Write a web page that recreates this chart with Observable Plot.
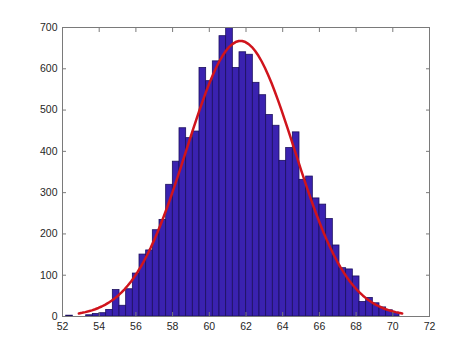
<!DOCTYPE html>
<html><head><meta charset="utf-8">
<script src="https://cdn.jsdelivr.net/npm/d3@7"></script>
<script src="https://cdn.jsdelivr.net/npm/@observablehq/plot@0.6"></script>
<style>html,body{margin:0;padding:0;background:#fff} svg{display:block}</style>
</head><body><div id="chart"></div>
<script>
// Histogram counts (50 bins)
const counts = [2,0,0,3,6,8,16,64,26,66,104,150,160,209,234,319,375,456,432,448,
  602,570,618,679,699,602,640,634,566,536,488,462,377,408,446,331,339,286,271,236,
  172,117,114,97,35,45,32,22,15,9];
const binStart = 52.2;
const binWidth = 0.3633;
// Normal fit parameters (histfit)
const fitMu = 61.7;
const fitSigma = 2.937;
const xTicks = [52,54,56,58,60,62,64,66,68,70,72];
const yTicks = [0,100,200,300,400,500,600,700];

const bins = counts.map((c, i) => ({x1: binStart + i * binWidth, x2: binStart + (i + 1) * binWidth, y: c}));
const total = d3.sum(counts);
const fit = d3.range(100).map(i => {
  const x = fitMu - 3 * fitSigma + i * 6 * fitSigma / 99;
  const y = total * binWidth * Math.exp(-((x - fitMu) ** 2) / (2 * fitSigma ** 2)) / (fitSigma * Math.sqrt(2 * Math.PI));
  return {x, y};
});

const axisCol = "#7a7a7a";
const textCol = "#262626";
const chart = Plot.plot({
  width: 474, height: 355,
  marginLeft: 62, marginRight: 45, marginTop: 27, marginBottom: 39,
  style: {fontFamily: "'Liberation Sans', Arial, sans-serif", fontSize: "10.5px", color: textCol, background: "#fff"},
  x: {domain: [52, 72], label: null},
  y: {domain: [0, 700], label: null},
  marks: [
    Plot.rectY(bins, {x1: "x1", x2: "x2", y: "y", fill: "#3a22b0", stroke: "#1c0f5e", strokeWidth: 0.8}),
    Plot.line(fit, {x: "x", y: "y", stroke: "#d0141c", strokeWidth: 2.5}),
    Plot.frame({stroke: axisCol}),
    Plot.axisX(xTicks, {anchor: "bottom", tickSize: 0, tickPadding: 6, fill: textCol}),
    Plot.axisY(yTicks, {anchor: "left", tickSize: 0, tickPadding: 5, fill: textCol}),
    Plot.axisX(xTicks, {anchor: "bottom", tickSize: -4, fill: "none", stroke: axisCol}),
    Plot.axisX(xTicks, {anchor: "top", tickSize: -4, fill: "none", stroke: axisCol}),
    Plot.axisY(yTicks, {anchor: "left", tickSize: -4, fill: "none", stroke: axisCol}),
    Plot.axisY(yTicks, {anchor: "right", tickSize: -4, fill: "none", stroke: axisCol})
  ]
});
document.getElementById("chart").appendChild(chart);
</script>
</body></html>
